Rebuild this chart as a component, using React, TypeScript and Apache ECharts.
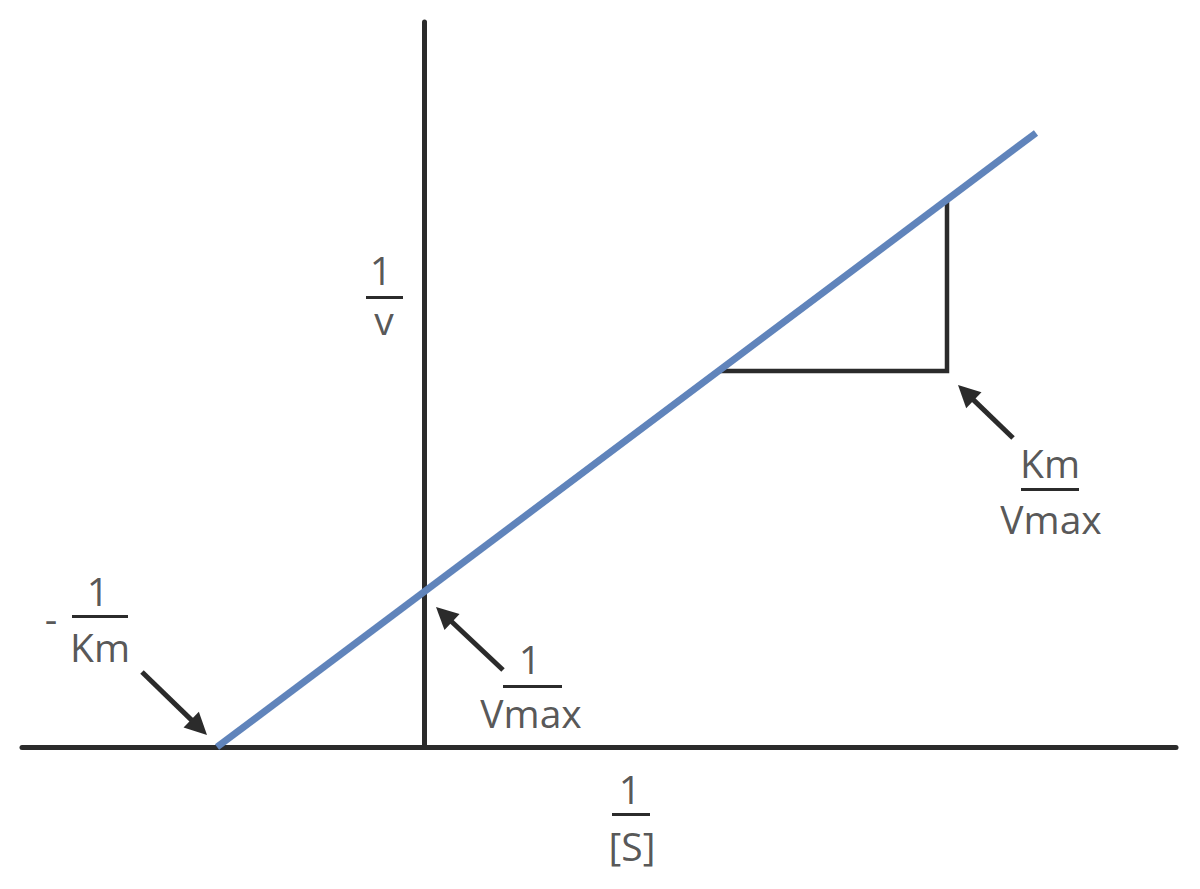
import { useEffect, useRef } from 'react'
import * as echarts from 'echarts'

// axis extent (1 unit = 100px on both axes)
const X_RANGE: [number, number] = [-4.02, 7.52]
const Y_RANGE: [number, number] = [0, 7.25]

// Lineweaver–Burk line: x = 1/[S], y = 1/v
const plotLine: [number, number][] = [
  [-2.07, 0],
  [6.12, 6.14],
]

// slope triangle under the line
const slopeTriangle: [number, number][] = [
  [2.98, 3.76],
  [5.23, 3.76],
  [5.23, 5.45],
]

// arrows, tail -> tip
const arrows: [number, number][][] = [
  [[-2.82, 0.75], [-2.17, 0.12]],
  [[0.79, 0.77], [0.12, 1.4]],
  [[5.89, 3.09], [5.34, 3.62]],
]

// fraction bars
const fractionBars: [number, number][][] = [
  [[-3.52, 1.31], [-2.96, 1.31]],
  [[0.79, 0.61], [1.38, 0.61]],
  [[5.97, 2.58], [6.55, 2.58]],
  [[-0.58, 4.5], [-0.21, 4.5]],
  [[1.88, -0.67], [2.26, -0.67]],
]

const labelTexts = ['-', '1', 'Km', '1', 'Vmax', 'Km', 'Vmax', '1', 'v', '1', '[S]']
const labelAt: [number, number][] = [
  [-3.73, 1.3],
  [-3.26, 1.57],
  [-3.24, 1.01],
  [1.06, 0.89],
  [1.07, 0.35],
  [6.26, 2.85],
  [6.27, 2.29],
  [-0.43, 4.78],
  [-0.4, 4.28],
  [2.06, -0.41],
  [2.08, -0.98],
]

const INK = '#2b2b2b'
const BLUE = '#6084bb'
const HEAD = 22

/** pull the tip back so the arrow head (centred on the end point) ends on the tip */
function shaft(a: [number, number][]): [number, number][] {
  const [t, h] = a
  const dx = h[0] - t[0]
  const dy = h[1] - t[1]
  const len = Math.hypot(dx, dy)
  const back = HEAD / 2 / 100
  return [t, [h[0] - (dx / len) * back, h[1] - (dy / len) * back]]
}

export default function App() {
  const ref = useRef<HTMLDivElement>(null)

  useEffect(() => {
    const el = ref.current
    if (!el) return
    const chart = echarts.init(el, undefined, { renderer: 'svg' })

    chart.setOption({
      animation: false,
      backgroundColor: '#ffffff',
      grid: { left: 22, right: 24, top: 22, bottom: 142 },
      xAxis: {
        type: 'value',
        min: X_RANGE[0],
        max: X_RANGE[1],
        axisLine: { show: true, onZero: true, lineStyle: { color: INK, width: 5 } },
        axisTick: { show: false },
        axisLabel: { show: false },
        splitLine: { show: false },
      },
      yAxis: {
        type: 'value',
        min: Y_RANGE[0],
        max: Y_RANGE[1],
        axisLine: { show: true, onZero: true, lineStyle: { color: INK, width: 5 } },
        axisTick: { show: false },
        axisLabel: { show: false },
        splitLine: { show: false },
      },
      series: [
        {
          type: 'line',
          data: slopeTriangle,
          showSymbol: false,
          clip: false,
          silent: true,
          lineStyle: { color: INK, width: 4.5, join: 'miter', cap: 'square' },
          z: 2,
        },
        {
          type: 'line',
          data: plotLine,
          showSymbol: false,
          clip: false,
          silent: true,
          lineStyle: { color: BLUE, width: 7 },
          z: 3,
        },
        {
          type: 'lines',
          coordinateSystem: 'cartesian2d',
          clip: false,
          silent: true,
          symbol: ['none', 'triangle'],
          symbolSize: [0, HEAD],
          lineStyle: { color: INK, width: 5, opacity: 1 },
          itemStyle: { color: INK },
          data: arrows.map((a) => ({ coords: shaft(a) })),
          z: 4,
        },
        {
          type: 'lines',
          coordinateSystem: 'cartesian2d',
          clip: false,
          silent: true,
          symbol: 'none',
          lineStyle: { color: INK, width: 3, opacity: 1 },
          data: fractionBars.map((b) => ({ coords: b })),
          z: 4,
        },
        {
          type: 'scatter',
          clip: false,
          silent: true,
          symbolSize: 0,
          data: labelAt.map((p, i) => ({
            value: p,
            label: { formatter: labelTexts[i] },
          })),
          label: {
            show: true,
            position: 'inside',
            color: INK,
            textBorderWidth: 0,
            textBorderColor: 'transparent',
            fontSize: 39,
            fontFamily: 'Open Sans',
            fontWeight: 400,
            align: 'center',
            verticalAlign: 'middle',
          },
          z: 5,
        },
      ],
    })

    return () => chart.dispose()
  }, [])

  return (
    <div
      ref={ref}
      style={{ position: 'fixed', left: 0, top: 0, width: 1200, height: 889 }}
    />
  )
}
